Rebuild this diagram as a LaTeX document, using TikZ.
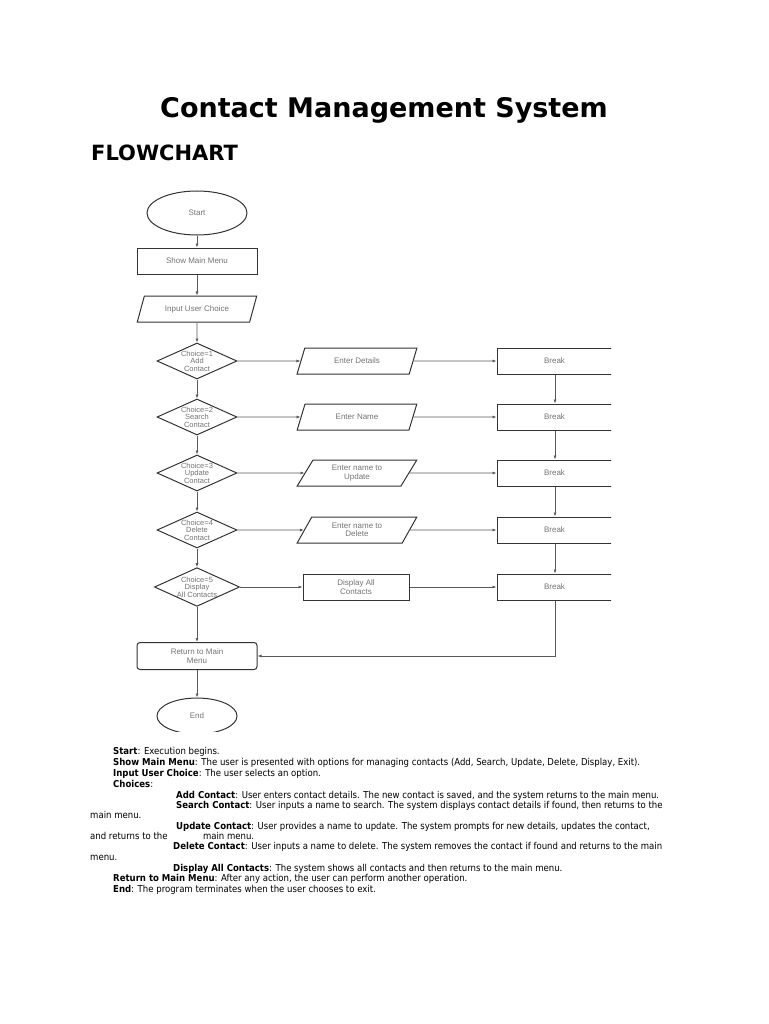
\documentclass[tikz,border=0pt]{standalone}
\usepackage{fontspec}
\setmainfont{DejaVu Sans}
\newfontfamily\cond{DejaVu Sans Condensed}
\newfontfamily\fcs{Liberation Sans}
\usetikzlibrary{shapes.geometric,arrows.meta}
\begin{document}
\begin{tikzpicture}[x=1pt,y=-1pt,
  fc/.style={draw=black!80,line width=1pt,font=\fcs\fontsize{8}{8.5}\selectfont,text=black!55,align=center,inner sep=0pt},
  term/.style={fc,ellipse,minimum width=#1},
  proc/.style={fc,rectangle,minimum width=120,minimum height=26},
  io/.style={fc,trapezium,trapezium left angle=60,trapezium right angle=120,minimum height=26,minimum width=#1,trapezium stretches=true},
  dec/.style={fc,diamond,minimum width=80,minimum height=36,aspect=2.2,font=\fcs\fontsize{7.5}{7.5}\selectfont},
  brk/.style={fc,rectangle,minimum width=140,minimum height=26},
  arr/.style={draw=black!65,line width=0.7pt,-{Latex[length=4pt,width=3pt]}},
  tx/.style={anchor=base west,inner sep=0pt,font=\cond\fontsize{9.5}{10}\selectfont}]
\useasboundingbox (0,0) rectangle (768,1024);
\node[font=\bfseries\fontsize{27}{30}\selectfont] (title) at (384,110) {Contact Management System};
\node[font=\bfseries\fontsize{21}{24}\selectfont,anchor=west,inner sep=0pt] (fl) at (91,153) {FLOWCHART};
\begin{scope}
\clip (130,190) rectangle (611,731);
\node[term,minimum width=100,minimum height=44] (start) at (197,213) {Start};
\node[proc] (menu) at (197,261) {Show Main Menu};
\node[io=120] (input) at (197,309) {Input User Choice};
\foreach \i/\y/\t in {1/361/Add,2/417/Search,3/473/Update,4/530/Delete}
  \node[dec] (d\i) at (197,\y) {Choice=\i\\\t\\Contact};
\node[dec] (d5) at (197,587) {Choice=5\\Display\\All Contacts};
\node[io=120] (m1) at (357,361) {Enter Details};
\node[io=120] (m2) at (357,417) {Enter Name};
\node[io=120] (m3) at (357,473) {Enter name to\\Update};
\node[io=120] (m4) at (357,530) {Enter name to\\Delete};
\node[proc,minimum width=106] (m5) at (356,587) {Display All\\Contacts};
\foreach \i/\y in {1/361,2/417,3/473,4/530,5/587}
  \node[brk] (b\i) at (567,\y) {\hspace*{-25pt}Break};
\node[proc,rounded corners=3pt,minimum height=27] (ret) at (197,656) {Return to Main\\Menu};
\node[term,minimum width=80,minimum height=36] (end) at (197,716) {End};
\draw[arr] (start) -- (menu);
\draw[arr] (menu) -- (input);
\draw[arr] (input) -- (d1);
\draw[arr] (d1) -- (d2);
\draw[arr] (d2) -- (d3);
\draw[arr] (d3) -- (d4);
\draw[arr] (d4) -- (d5);
\draw[arr] (d5) -- (ret);
\draw[arr] (ret) -- (end);
\foreach \i in {1,...,5}{
  \draw[arr] (d\i) -- (m\i);
  \draw[arr] (m\i) -- (b\i.west);}
\coordinate (bx) at (555,0);
\foreach \i/\j in {1/2,2/3,3/4,4/5}
  \draw[arr] (b\i.south -| bx) -- (b\j.north -| bx);
\draw[arr] (b5.south -| bx) |- (ret.east);
\end{scope}
\node[tx] (t1) at (113,754) {\textbf{Start}: Execution begins.};
\node[tx] (t2) at (113,765) {\textbf{Show Main Menu}: The user is presented with options for managing contacts (Add, Search, Update, Delete, Display, Exit).};
\node[tx] (t3) at (113,776) {\textbf{Input User Choice}: The user selects an option.};
\node[tx] (t4) at (113,787) {\textbf{Choices}:};
\node[tx] (t5) at (176,798) {\textbf{Add Contact}: User enters contact details. The new contact is saved, and the system returns to the main menu.};
\node[tx] (t6) at (176,808) {\textbf{Search Contact}: User inputs a name to search. The system displays contact details if found, then returns to the};
\node[tx] (t7) at (90,818) {main menu.};
\node[tx] (t8) at (176,829) {\textbf{Update Contact}: User provides a name to update. The system prompts for new details, updates the contact,};
\node[tx] (t9) at (90,839) {and returns to the \hspace{30pt} main menu.};
\node[tx] (t10) at (173,849) {\textbf{Delete Contact}: User inputs a name to delete. The system removes the contact if found and returns to the main};
\node[tx] (t11) at (90,860) {menu.};
\node[tx] (t12) at (173,871) {\textbf{Display All Contacts}: The system shows all contacts and then returns to the main menu.};
\node[tx] (t13) at (113,881) {\textbf{Return to Main Menu}: After any action, the user can perform another operation.};
\node[tx] (t14) at (113,892) {\textbf{End}: The program terminates when the user chooses to exit.};
\end{tikzpicture}
\end{document}
